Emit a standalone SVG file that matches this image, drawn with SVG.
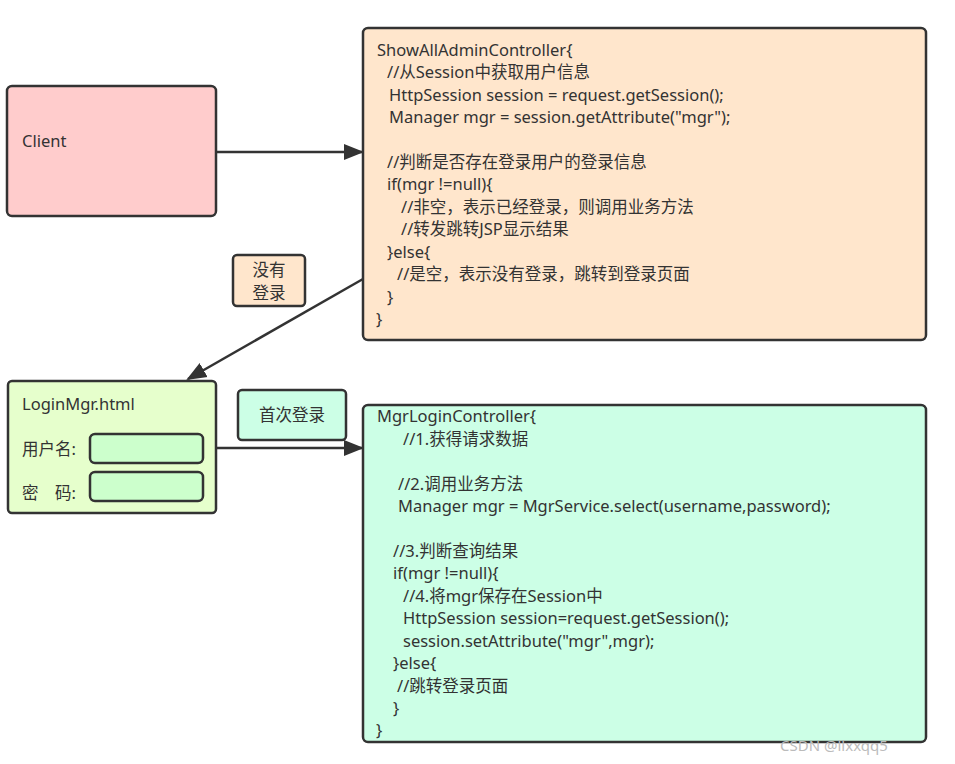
<svg xmlns="http://www.w3.org/2000/svg" width="955" height="764" viewBox="0 0 955 764">
<defs>
<style>
.b{stroke:#333;stroke-width:2.5}
text{font-family:"Noto Sans","Noto Sans CJK SC",sans-serif;font-size:16.5px;fill:#333}
.c{stroke:#333;stroke-width:2.5;fill:none}
</style>
<marker id="a" viewBox="0 0 10 10" refX="9" refY="5" markerWidth="8" markerHeight="8" markerUnits="userSpaceOnUse" orient="auto"><path d="M0,0L10,5L0,10z" fill="#333"/></marker>
<marker id="m" viewBox="0 0 10 10" refX="9" refY="5" markerWidth="20" markerHeight="20" markerUnits="userSpaceOnUse" orient="auto"><path d="M0,1L10,5L0,9z" fill="#333"/></marker>
</defs>
<rect width="955" height="764" fill="#fff"/>
<g id="connectors">
<path class="c" d="M216,152H362" marker-end="url(#m)"/>
<path class="c" d="M363,279L188,379" marker-end="url(#m)"/>
<path class="c" d="M216,448H362" marker-end="url(#m)"/>
</g>
<g id="client"><rect class="b" x="7" y="86" width="209" height="130" rx="5" fill="#ffcccc"/><text x="22" y="147">Client</text></g>
<g id="show"><rect class="b" x="363" y="28" width="563" height="312" rx="5" fill="#ffe6cc"/>
<text x="377" y="56">ShowAllAdminController{</text>
<text x="387" y="78">//从Session中获取用户信息</text>
<text x="389" y="101">HttpSession session = request.getSession();</text>
<text x="389" y="123">Manager mgr = session.getAttribute("mgr");</text>
<text x="387" y="168">//判断是否存在登录用户的登录信息</text>
<text x="387" y="190">if(mgr !=null){</text>
<text x="401" y="213">//非空，表示已经登录，则调用业务方法</text>
<text x="401" y="235">//转发跳转JSP显示结果</text>
<text x="387" y="258">}else{</text>
<text x="397" y="280">//是空，表示没有登录，跳转到登录页面</text>
<text x="387" y="303">}</text>
<text x="376" y="325">}</text></g>
<g id="nolog"><rect class="b" x="233" y="255" width="72" height="51" rx="4" fill="#ffe6cc"/><text x="269" y="276" text-anchor="middle">没有</text><text x="269" y="299" text-anchor="middle">登录</text></g>
<g id="login"><rect class="b" x="8" y="381" width="208" height="132" rx="4" fill="#e6ffcc"/>
<text x="22" y="410">LoginMgr.html</text>
<text x="22" y="455">用户名:</text><text x="22" y="499">密　码:</text>
<rect class="b" x="90" y="434" width="113" height="29" rx="5" fill="#ccffcc"/>
<rect class="b" x="90" y="472" width="113" height="29" rx="5" fill="#ccffcc"/></g>
<g id="first"><rect class="b" x="238" y="390" width="108" height="50" rx="4" fill="#ccffe6"/><text x="292" y="421" text-anchor="middle">首次登录</text></g>
<g id="mgr"><rect class="b" x="363" y="405" width="563" height="337" rx="5" fill="#ccffe6"/>
<text x="377" y="422">MgrLoginController{</text>
<text x="403" y="445">//1.获得请求数据</text>
<text x="398" y="490">//2.调用业务方法</text>
<text x="398" y="512">Manager mgr = MgrService.select(username,password);</text>
<text x="393" y="557">//3.判断查询结果</text>
<text x="393" y="579">if(mgr !=null){</text>
<text x="403" y="602">//4.将mgr保存在Session中</text>
<text x="403" y="624">HttpSession session=request.getSession();</text>
<text x="403" y="647">session.setAttribute("mgr",mgr);</text>
<text x="393" y="669">}else{</text>
<text x="397" y="692">//跳转登录页面</text>
<text x="393" y="714">}</text>
<text x="376" y="736">}</text></g>
<text x="780" y="751" style="fill:#bbb;font-size:15px">CSDN @llxxqq5</text>
</svg>
